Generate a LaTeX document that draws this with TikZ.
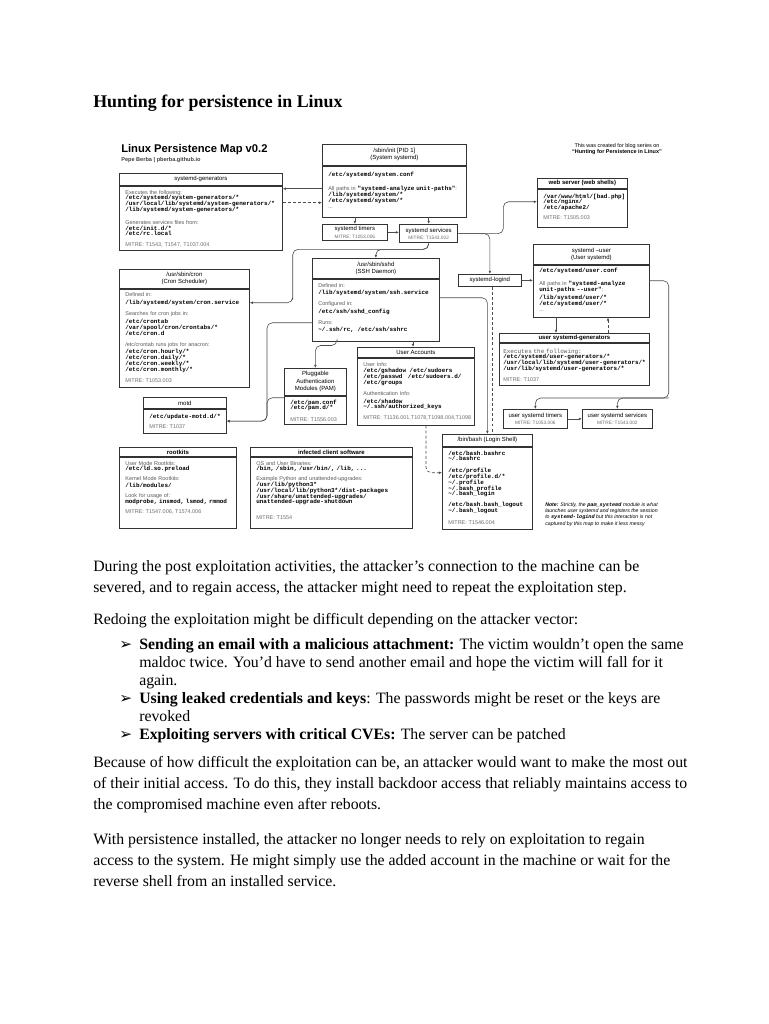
\documentclass[tikz,border=0pt]{standalone}
\usepackage{fontspec}
\setmainfont{Liberation Serif}
\setsansfont{Liberation Sans}
\setmonofont{Liberation Mono}
\newfontfamily\symfont{DejaVu Sans}
\usetikzlibrary{arrows.meta,calc}

\newlength\pxu \setlength\pxu{0.75pt}
\definecolor{edge}{HTML}{333333}
\definecolor{conn}{HTML}{4D4D4D}
\definecolor{lbl}{HTML}{5A5A5A}
\definecolor{mit}{HTML}{6E6E6E}
\newcommand{\mo}[1]{\mbox{\color{black}\ttfamily\bfseries\fontsize{4.45}{4.35}\selectfont #1}}
\newcommand{\lt}[1]{\mbox{\color{lbl}\ttfamily\fontsize{4.45}{4.35}\selectfont #1}}
\newcommand{\lb}[1]{\mbox{\color{lbl}#1}}
\newcommand{\mi}[1]{\mbox{\color{mit}#1}}
\newcommand{\bdf}{\fontsize{4.1}{4.35}\selectfont\lineskiplimit=-10pt\relax}
\newcommand{\hdf}{\fontsize{4.5}{5.3}\selectfont\lineskiplimit=-10pt\relax}
\newcommand{\smf}{\fontsize{3.6}{4}\selectfont}
\newcommand{\txf}{\fontsize{11.85}{14}\selectfont}

\tikzset{
  hd/.style={draw=edge, line width=0.55pt, fill=white, anchor=north west, inner sep=0pt, align=center, font=\sffamily\hdf},
  bd/.style={draw=edge, line width=0.55pt, fill=white, anchor=north west, inner xsep=6\pxu, inner ysep=0pt, align=left, font=\sffamily\bdf},
  sb/.style={draw=edge, line width=0.55pt, fill=white, anchor=north west, inner sep=0pt, align=center, font=\sffamily\hdf},
  arr/.style={draw=conn, line width=0.45pt, -{Latex[length=2.4pt,width=2pt]}},
  dsh/.style={dash pattern=on 2.2pt off 1.6pt},
  txt/.style={anchor=base west, inner sep=0pt, font=\txf},
  blt/.style={anchor=base west, inner sep=0pt, font=\symfont\fontsize{11.5}{12}\selectfont},
}

\begin{document}
\begin{tikzpicture}[x=0.75pt, y=-0.75pt]
\path[use as bounding box, fill=white] (0,0) rectangle (768,1024);

\node[txt, font=\fontsize{13.4}{16}\selectfont\bfseries] (head) at (93,108) {Hunting for persistence in Linux};

% map title
\node[anchor=base west, inner sep=0pt, font=\sffamily\bfseries\fontsize{8.4}{10}\selectfont] (ttl) at (121,152) {Linux Persistence Map v0.2};
\node[anchor=base west, inner sep=0pt, font=\sffamily\bfseries\fontsize{4.2}{5}\selectfont, text=black!75] (aut) at (121,161) {Pepe Berba | pberba.github.io};
\node[anchor=north, inner sep=0pt, align=center, font=\sffamily\fontsize{4.1}{4.6}\selectfont] (blog) at (617,143) {This was created for blog series on\\\textbf{“Hunting for Persistence in Linux”}};

% systemd-generators
\node[hd, minimum width=163\pxu, minimum height=12\pxu] (gen) at (119,173) {systemd-generators};
\node[bd, text width=151\pxu, text height=8\pxu, text depth=56\pxu] (genb) at (gen.south west) {
\lb{Executes the following:}\\
\mo{/etc/systemd/system-generators/*}\\
\mo{/usr/local/lib/systemd/system-generators/*}\\
\mo{/lib/systemd/system-generators/*}\\[7\pxu]
\lb{Generates services files from:}\\
\mo{/etc/init.d/*}\\
\mo{/etc/rc.local}\\[5\pxu]
\mi{MITRE: T1543, T1547, T1037.004}};

% init
\node[hd, minimum width=144\pxu, minimum height=21\pxu] (init) at (322,144) {/sbin/init [PID 1]\\(System systemd)};
\node[bd, text width=132\pxu, text height=10\pxu, text depth=41\pxu] (initb) at (init.south west) {
\mo{/etc/systemd/system.conf}\\[9\pxu]
\lb{All paths in \mo{"systemd-analyze unit-paths"}:}\\
\mo{/lib/systemd/system/*}\\
\mo{/etc/systemd/system/*}\\
\lb{...}};
\node[sb, minimum width=65\pxu, minimum height=16\pxu] (tim) at (322,224) {systemd timers\\\mi{\smf MITRE: T1053.006}};
\node[sb, line width=1pt, minimum width=58\pxu, minimum height=18\pxu] (svc) at (399,224) {systemd services\\\mi{\smf MITRE: T1543.002}};

% web shells
\node[hd, font=\sffamily\hdf\bfseries, minimum width=90\pxu, minimum height=10\pxu] (web) at (537,178) {web server (web shells)};
\node[bd, text width=78\pxu, text height=9\pxu, text depth=29\pxu] (webb) at (web.south west) {
\mo{/var/www/html/[bad.php]}\\
\mo{/etc/nginx/}\\
\mo{/etc/apache2/}\\[4\pxu]
\mi{MITRE: T1505.003}};

% user side
\node[sb, minimum width=63\pxu, minimum height=12\pxu] (logind) at (458,274) {systemd-logind};
\node[hd, minimum width=116\pxu, minimum height=20\pxu] (user) at (533,244) {systemd --user\\(User systemd)};
\node[bd, text width=104\pxu, text height=7\pxu, text depth=45\pxu] (userb) at (user.south west) {
\mo{/etc/systemd/user.conf}\\[8\pxu]
\lb{All paths in \mo{"systemd-analyze}}\\
\mo{unit-paths --user"}\lb{:}\\[2\pxu]
\mo{/lib/systemd/user/*}\\
\mo{/etc/systemd/user/*}\\
\lb{...}};
\node[hd, font=\sffamily\hdf\bfseries, minimum width=150\pxu, minimum height=9\pxu] (ugen) at (499,333) {user systemd-generators};
\node[bd, inner xsep=4\pxu, text width=142\pxu, text height=10\pxu, text depth=32\pxu] (ugenb) at (ugen.south west) {
\lt{Executes the following:}\\
\mo{/etc/systemd/user-generators/*}\\
\mo{/usr/local/lib/systemd/user-generators/*}\\
\mo{/usr/lib/systemd/user-generators/*}\\[5\pxu]
\mi{MITRE: T1037}};
\node[sb, minimum width=64\pxu, minimum height=19\pxu] (utim) at (503,409) {user systemd timers\\\mi{\smf MITRE: T1053.006}};
\node[sb, minimum width=70\pxu, minimum height=19\pxu] (usvc) at (582,409) {user systemd services\\\mi{\smf MITRE: T1543.002}};

% cron
\node[hd, minimum width=130\pxu, minimum height=19\pxu] (cron) at (119,269) {/usr/sbin/cron\\(Cron Scheduler)};
\node[bd, text width=118\pxu, text height=7\pxu, text depth=91\pxu] (cronb) at (cron.south west) {
\lb{Defined in:}\\[3\pxu]
\mo{/lib/systemd/system/cron.service}\\[5\pxu]
\lb{Searches for cron jobs in:}\\[2\pxu]
\mo{/etc/crontab}\\
\mo{/var/spool/cron/crontabs/*}\\
\mo{/etc/cron.d}\\[6\pxu]
\lb{/etc/crontab runs jobs for anacron:}\\[1\pxu]
\mo{/etc/cron.hourly/*}\\
\mo{/etc/cron.daily/*}\\
\mo{/etc/cron.weekly/*}\\
\mo{/etc/cron.monthly/*}\\[6\pxu]
\mi{MITRE: T1053.003}};

% sshd
\node[hd, minimum width=127\pxu, minimum height=20\pxu] (sshd) at (312,258) {/usr/sbin/sshd\\(SSH Daemon)};
\node[bd, text width=115\pxu, text height=8\pxu, text depth=54\pxu] (sshdb) at (sshd.south west) {
\lb{Defined in:}\\[2\pxu]
\mo{/lib/systemd/system/ssh.service}\\[5\pxu]
\lb{Configured in:}\\[2\pxu]
\mo{/etc/ssh/sshd\_config}\\[5\pxu]
\lb{Runs:}\\[1\pxu]
\mo{\textasciitilde/.ssh/rc,\ \ /etc/ssh/sshrc}};

% pam, accounts, motd
\node[hd, minimum width=62\pxu, minimum height=27\pxu] (pam) at (284,368) {Pluggable\\[0.5\pxu]Authentication\\[0.5\pxu]Modules (PAM)};
\node[bd, text width=50\pxu, text height=8\pxu, text depth=20\pxu] (pamb) at (pam.south west) {
\mo{/etc/pam.conf}\\
\mo{/etc/pam.d/*}\\[6\pxu]
\mi{MITRE: T1556.003}};
\node[hd, minimum width=117\pxu, minimum height=10\pxu] (ua) at (357,347) {User Accounts};
\node[bd, text width=105\pxu, text height=8\pxu, text depth=59\pxu] (uab) at (ua.south west) {
\lb{User Info:}\\[1\pxu]
\mo{/etc/gshadow\ \ /etc/sudoers}\\
\mo{/etc/passwd\ \ \ /etc/sudoers.d/}\\
\mo{/etc/groups}\\[5\pxu]
\lb{Authentication Info:}\\[2\pxu]
\mo{/etc/shadow}\\
\mo{\textasciitilde/.ssh/authorized\_keys}\\[5\pxu]
\mi{MITRE: T1136.001,T1078,T1098.004,T1098}};
\node[hd, minimum width=83\pxu, minimum height=11\pxu] (motd) at (143,397) {motd};
\node[bd, text width=71\pxu, text height=9\pxu, text depth=15\pxu] (motdb) at (motd.south west) {
\mo{/etc/update-motd.d/*}\\[5\pxu]
\mi{MITRE: T1037}};

% login shell
\node[hd, minimum width=90\pxu, minimum height=12\pxu] (bash) at (442,434) {/bin/bash (Login Shell)};
\node[bd, text width=78\pxu, text height=8\pxu, text depth=74\pxu] (bashb) at (bash.south west) {
\mo{/etc/bash.bashrc}\\
\mo{\textasciitilde/.bashrc}\\[6\pxu]
\mo{/etc/profile}\\
\mo{/etc/profile.d/*}\\
\mo{\textasciitilde/.profile}\\
\mo{\textasciitilde/.bash\_profile}\\
\mo{\textasciitilde/.bash\_login}\\[5\pxu]
\mo{/etc/bash.bash\_logout}\\
\mo{\textasciitilde/.bash\_logout}\\[6\pxu]
\mi{MITRE: T1546.004}};

% rootkits, client software
\node[hd, font=\sffamily\hdf\bfseries, minimum width=117\pxu, minimum height=9\pxu] (root) at (119,447) {rootkits};
\node[bd, text width=105\pxu, text height=8\pxu, text depth=63\pxu] (rootb) at (root.south west) {
\lb{User Mode Rootkits:}\\
\mo{/etc/ld.so.preload}\\[4\pxu]
\lb{Kernel Mode Rootkits:}\\[1\pxu]
\mo{/lib/modules/}\\[4\pxu]
\lb{Look for usage of:}\\
\mo{modprobe, insmod, lsmod, rmmod}\\[5\pxu]
\mi{MITRE: T1547.006, T1574.006}};
\node[hd, font=\sffamily\hdf\bfseries, minimum width=162\pxu, minimum height=9\pxu] (inf) at (250,447) {infected client software};
\node[bd, text width=150\pxu, text height=8\pxu, text depth=63\pxu] (infb) at (inf.south west) {
\lb{OS and User Binaries:}\\
\mo{/bin, /sbin, /usr/bin/, /lib, ...}\\[4\pxu]
\lb{Example Python and unattended-upgrades:}\\
\mo{/usr/lib/python3*}\\
\mo{/usr/local/lib/python3*/dist-packages}\\
\mo{/usr/share/unattended-upgrades/}\\
\mo{unattended-upgrade-shutdown}\\[10\pxu]
\mi{MITRE: T1554}};

\node[anchor=north west, inner sep=0pt, align=left, font=\sffamily\itshape\fontsize{3.9}{4.75}\selectfont] (note) at (545,502) {\textbf{Note:} Strictly, the {\ttfamily\bfseries pam\_systemd} module is what\\launches user systemd and registers the session\\to {\ttfamily\bfseries systemd-logind} but this interaction is not\\captured by this map to make it less messy};

% connectors
\coordinate (c0) at ($(webb.north west)+(0,13)$);
\coordinate (c1) at ($(initb.north west)+(0,23)$);
\coordinate (c2) at ($(genb.north east)+(0,17)$);
\coordinate (c3) at ($(cronb.north east)+(0,14)$);
\coordinate (c4) at ($(userb.south west)+(23,0)$);
\coordinate (c5) at ($(ugen.north west)+(109,0)$);
\coordinate (c6) at ($(userb.north east)+(0,16)$);
\coordinate (c7) at ($(usvc.north east)+(16,-11)$);
\coordinate (c8) at ($(sshdb.south west)+(101,0)$);
\coordinate (c9) at ($(sshdb.south west)+(25,0)$);
\coordinate (c10) at ($(sshdb.north west)+(0,44)$);
\coordinate (c11) at ($(pamb.north west)+(0,2)$);
\coordinate (c12) at ($(sshdb.north east)+(0,19)$);
\coordinate (c13) at ($(logind.south)+(2,0)$);
\coordinate (c14) at ($(uab.south west)+(69,0)$);
\coordinate (c15) at ($(bashb.north west)+(0,26)$);

\draw[arr] (c1) -- (c1 -| genb.east);
\draw[arr, dsh] (c2) -- (c2 -| initb.west);
\draw[arr] (initb.south -| tim.north) -- (tim.north);
\draw[arr] (initb.south -| svc.north) -- (svc.north);
\draw[arr] (tim.east) -- (tim.east -| svc.west);
\draw[arr, rounded corners=4pt] (svc.east) -- ++(45,0) |- (c0);
\draw[arr, rounded corners=4pt] (svc.east) -| (logind.north);
\draw[arr, rounded corners=4pt] (svc.south) -- ++(0,6) -| (sshd.north);
\draw[arr, rounded corners=4pt] (svc.south) -- ++(0,6) -| ($(c3)+(43,0)$) |- (c3);
\draw[arr] (logind.east) -- (logind.east -| userb.west);
\draw[arr] (c4) -- (c4 |- ugen.north);
\draw[arr, dsh] (c5) -- (c5 |- userb.south);
\draw[arr, rounded corners=4pt] (c6) -| (c7) -| (utim.north);
\draw[arr, rounded corners=4pt] (c7) -| (usvc.north);
\draw[arr] (utim.east) -- (utim.east -| usvc.west);
\draw[arr] (c8) -- (c8 |- ua.north);
\draw[arr, rounded corners=4pt] (c9) -- ++(0,4) -| (pam.north);
\draw[arr, rounded corners=4pt] (c10) -- ++(-45,0) |- (motdb.east);
\draw[arr, rounded corners=4pt] (c11) -- ++(-17,0) |- (motdb.east);
\draw[arr, rounded corners=4pt] (c12) -| (bash.north);
\draw[draw=conn, line width=0.45pt, dsh] (c13) -- (c13 |- bash.north);
\draw[arr, dsh, rounded corners=4pt] (c14) |- (c15);

% body text
\node[txt] (p1a) at (93,571) {During the post exploitation activities, the attacker’s connection to the machine can be};
\node[txt] (p1b) at (93,592) {severed, and to regain access, the attacker might need to repeat the exploitation step.};
\node[txt] (p2) at (93,624) {Redoing the exploitation might be difficult depending on the attacker vector:};
\node[blt] (b1) at (119,649) {➢};
\node[txt] (l1a) at (139,649) {\textbf{Sending an email with a malicious attachment:} The victim wouldn’t open the same};
\node[txt] (l1b) at (139,667) {maldoc twice. You’d have to send another email and hope the victim will fall for it};
\node[txt] (l1c) at (139,685) {again.};
\node[blt] (b2) at (119,703) {➢};
\node[txt] (l2a) at (139,703) {\textbf{Using leaked credentials and keys}: The passwords might be reset or the keys are};
\node[txt] (l2b) at (139,721) {revoked};
\node[blt] (b3) at (119,739) {➢};
\node[txt] (l3a) at (139,739) {\textbf{Exploiting servers with critical CVEs:} The server can be patched};
\node[txt] (p3a) at (93,767) {Because of how difficult the exploitation can be, an attacker would want to make the most out};
\node[txt] (p3b) at (93,788) {of their initial access. To do this, they install backdoor access that reliably maintains access to};
\node[txt] (p3c) at (93,809) {the compromised machine even after reboots.};
\node[txt] (p4a) at (93,844) {With persistence installed, the attacker no longer needs to rely on exploitation to regain};
\node[txt] (p4b) at (93,865) {access to the system. He might simply use the added account in the machine or wait for the};
\node[txt] (p4c) at (93,886) {reverse shell from an installed service.};
\end{tikzpicture}
\end{document}
